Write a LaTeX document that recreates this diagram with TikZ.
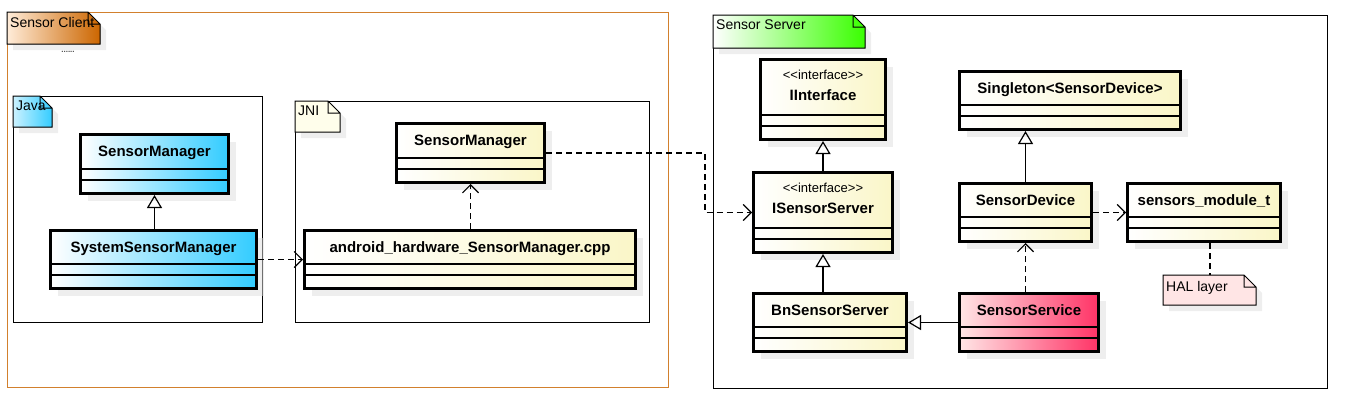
\documentclass[tikz,border=0pt]{standalone}
\usepackage{fontspec}
\setmainfont{Liberation Sans}
\usetikzlibrary{calc,shadows,arrows.meta}
\definecolor{blueend}{RGB}{51,204,255}
\definecolor{pinkend}{RGB}{255,51,102}
\definecolor{yelend}{RGB}{250,246,200}
\tikzset{>=stealth,
  cls/.style={draw,line width=3pt,anchor=north west,inner sep=0pt,
    shading=axis,shading angle=90,drop shadow={shadow xshift=7pt,shadow yshift=-7pt,fill=black!13}},
  yel/.style={left color=white,right color=yelend},
  blu/.style={left color=white,right color=blueend},
  pnk/.style={left color=pink!40!white,right color=pinkend},
  ttl/.style={font=\fontsize{15}{17}\selectfont\bfseries,anchor=north,align=center},
  frm/.style={draw,line width=1pt},
  tab/.style={drop shadow={shadow xshift=6pt,shadow yshift=-6pt,fill=black!13}},
  tabtxt/.style={font=\fontsize{14}{16}\selectfont,anchor=north west,inner sep=2pt},
  inh/.style={-{Triangle[open,length=13pt,width=15pt]},line width=1.2pt},
  dep/.style={-{Straight Barb[length=8pt,width=16pt]},dashed,dash pattern=on 6pt off 4pt,line width=1.2pt}}
% class box: name, x1, y1, x2, y2, colour style, title
\newcommand\umlcls[7]{%
  \node[cls,#6,minimum width={(#4-#2)*1pt},minimum height={(#5-#3)*1pt}] (#1) at (#2,#3) {};
  \draw[line width=1.2pt] ($(#1.south west)+(1,-26)$) -- ($(#1.south east)+(-1,-26)$);
  \draw[line width=1.2pt] ($(#1.south west)+(1,-15)$) -- ($(#1.south east)+(-1,-15)$);
  \node[ttl] (#1-t) at ($(#1.north)+(0,9)$) {#7};}
% package tab with folded corner: x1, y1, x2, y2, fill
\newcommand\pkgtab[5]{%
  \fill[#5,tab] (#1,#2) -- (#3-12,#2) -- (#3,#2+12) -- (#3,#4) -- (#1,#4) -- cycle;
  \draw[line width=1pt] (#1,#2) -- (#3-12,#2) -- (#3,#2+12) -- (#3,#4) -- (#1,#4) -- cycle
    (#3-12,#2) -- (#3-12,#2+12) -- (#3,#2+12);}
\begin{document}
\begin{tikzpicture}[x=1pt,y=-1pt]
\useasboundingbox (0,0) rectangle (1346,402);
% client side
\draw[frm,draw=brown!70!orange] (7,12) rectangle (668,387);
\pkgtab{7}{12}{100}{44}{left color=orange!15!white,right color=orange!80!black}
\node[tabtxt] (client) at (8,15) {Sensor Client};
\node[font=\bfseries\fontsize{8}{8}\selectfont,text=black!70] (dots) at (68,52) {......};
\draw[frm] (13,96) rectangle (262,322);
\pkgtab{13}{96}{52}{127}{left color=blueend!25!white,right color=blueend}
\node[tabtxt] (java) at (14,99) {Java};
\draw[frm] (295,101) rectangle (649,322);
\pkgtab{295}{101}{340}{132}{fill=yellow!8}
\node[tabtxt] (jni) at (296,104) {JNI};
\umlcls{jsm}{79}{133}{227}{192}{blu}{SensorManager}
\umlcls{ssm}{49}{229}{255}{287}{blu}{SystemSensorManager}
\umlcls{nsm}{395}{122}{543}{181}{yel}{SensorManager}
\umlcls{ahsm}{303}{229}{634}{287}{yel}{android\_hardware\_SensorManager.cpp}
% server side
\draw[frm] (713,15) rectangle (1327,388);
\pkgtab{713}{15}{865}{48}{left color=white,right color=green!70!lime}
\node[tabtxt] (server) at (714,18) {Sensor Server};
\umlcls{iif}{759}{58}{884}{138}{yel}{\mdseries\fontsize{13}{15}\selectfont<{}<interface>{}>\\[4pt]IInterface}
\umlcls{iss}{752}{171}{891}{251}{yel}{\mdseries\fontsize{13}{15}\selectfont<{}<interface>{}>\\[4pt]ISensorServer}
\umlcls{bn}{752}{292}{905}{350}{yel}{BnSensorServer}
\umlcls{svc}{958}{292}{1097}{350}{pnk}{SensorService}
\umlcls{sgl}{958}{70}{1179}{128}{yel}{Singleton<SensorDevice>}
\umlcls{dev}{958}{182}{1090}{240}{yel}{SensorDevice}
\umlcls{smt}{1126}{182}{1279}{240}{yel}{sensors\_module\_t}
\fill[red!10,tab] (1163,275) -- (1244,275) -- (1256,287) -- (1256,305) -- (1163,305) -- cycle;
\draw[line width=1pt] (1163,275) -- (1244,275) -- (1256,287) -- (1256,305) -- (1163,305) -- cycle
  (1244,275) -- (1244,287) -- (1256,287);
\node[tabtxt] (hal) at (1164,279) {HAL layer};
\coordinate (halTop) at (1210,275);
\coordinate (bend) at (705,0);
% connectors
\draw[inh] (ssm.north -| jsm.south) -- (jsm.south);
\draw[dep] (ssm.east) -- (ahsm.west |- ssm.east);
\draw[dep] (ahsm.north -| nsm.south) -- (nsm.south);
\draw[dep] (nsm.east) -- (nsm.east -| bend) -- (bend |- iss.west) -- (iss.west);
\draw[inh] (iss.north -| iif.south) -- (iif.south);
\draw[inh] (bn.north -| iss.south) -- (iss.south);
\draw[inh] (svc.west) -- (bn.east |- svc.west);
\draw[inh] (dev.north) -- (dev.north |- sgl.south);
\draw[dep] (svc.north -| dev.south) -- (dev.south);
\draw[dep] (dev.east) -- (smt.west |- dev.east);
\draw[dashed,dash pattern=on 6pt off 4pt,line width=1.2pt] (smt.south -| halTop) -- (halTop);
\end{tikzpicture}
\end{document}
